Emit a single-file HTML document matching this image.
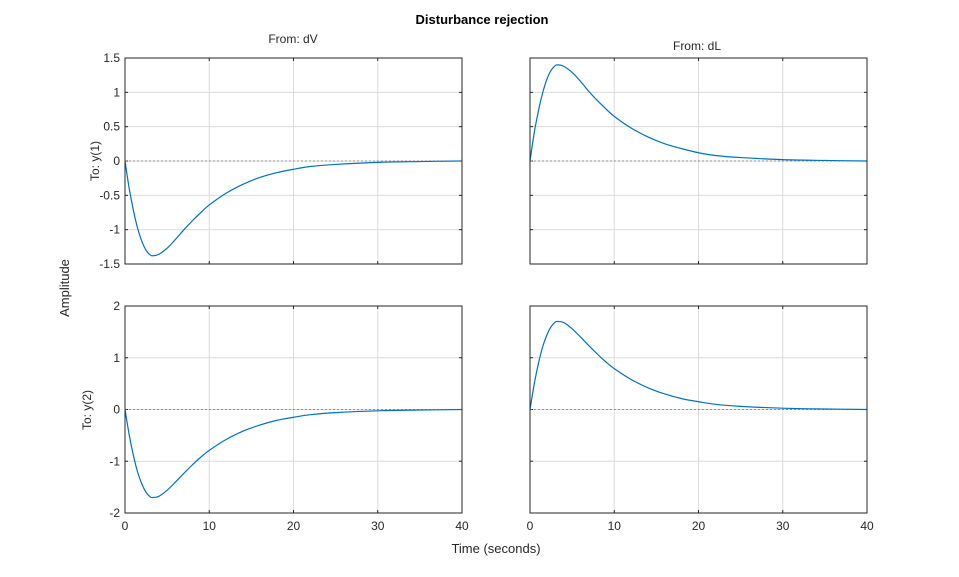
<!DOCTYPE html>
<html><head><meta charset="utf-8"><style>
body{margin:0;background:#fff;}
svg{display:block;font-family:"Liberation Sans",sans-serif;}
</style></head><body>
<svg id="chart" width="959" height="577" viewBox="0 0 959 577" xmlns="http://www.w3.org/2000/svg">
<rect width="959" height="577" fill="#fff"/>
<text x="482" y="24" text-anchor="middle" font-size="13" font-weight="bold" fill="#000">Disturbance rejection</text>
<text x="293" y="43" text-anchor="middle" font-size="12" fill="#262626">From: dV</text>
<text x="697" y="50" text-anchor="middle" font-size="12" fill="#262626">From: dL</text>
<text transform="translate(69,288) rotate(-90)" text-anchor="middle" font-size="13" fill="#262626">Amplitude</text>
<text x="496" y="553" text-anchor="middle" font-size="13" fill="#262626">Time (seconds)</text>
<text transform="translate(99,161) rotate(-90)" text-anchor="middle" font-size="12" fill="#262626">To: y(1)</text>
<text transform="translate(91,410) rotate(-90)" text-anchor="middle" font-size="12" fill="#262626">To: y(2)</text>
<g id="panels"></g>
</svg>
<script>
const times = [0,0.5,1,1.5,2,2.5,3,3.3,4,5,6,7,8,9,10,12,14,16,18,20,22,25,30,35,40];
const y1dV = [0,-0.40,-0.72,-0.98,-1.17,-1.30,-1.37,-1.38,-1.36,-1.27,-1.14,-1.00,-0.87,-0.75,-0.64,-0.47,-0.34,-0.24,-0.17,-0.12,-0.08,-0.05,-0.02,-0.008,0];
const y1dL = [0,0.41,0.73,0.99,1.19,1.32,1.39,1.40,1.38,1.29,1.16,1.01,0.88,0.76,0.65,0.48,0.35,0.25,0.18,0.12,0.08,0.05,0.02,0.008,0];
const y2dV = [0,-0.49,-0.89,-1.21,-1.44,-1.60,-1.69,-1.70,-1.68,-1.56,-1.40,-1.23,-1.07,-0.92,-0.79,-0.58,-0.42,-0.30,-0.21,-0.15,-0.10,-0.06,-0.025,-0.01,0];
const y2dL = [0,0.49,0.89,1.21,1.44,1.60,1.69,1.70,1.68,1.56,1.40,1.23,1.07,0.92,0.79,0.58,0.42,0.30,0.21,0.15,0.10,0.06,0.025,0.01,0];
const xTicks = [0,10,20,30,40];
const yTicksTop = [-1.5,-1,-0.5,0,0.5,1,1.5];
const yTicksBot = [-2,-1,0,1,2];

const NS="http://www.w3.org/2000/svg";
const root=document.getElementById('panels');
function mk(tag,attrs,parent){const e=document.createElementNS(NS,tag);for(const k in attrs)e.setAttribute(k,attrs[k]);(parent||root).appendChild(e);return e;}

const panels=[
 {name:'y1-dv',x0:125,x1:462,y0:58,y1:264,ymin:-1.5,ymax:1.5,ticks:yTicksTop,data:y1dV,ylab:true,xlab:false},
 {name:'y1-dl',x0:530,x1:867,y0:58,y1:264,ymin:-1.5,ymax:1.5,ticks:yTicksTop,data:y1dL,ylab:false,xlab:false},
 {name:'y2-dv',x0:125,x1:462,y0:306,y1:513,ymin:-2,ymax:2,ticks:yTicksBot,data:y2dV,ylab:true,xlab:true},
 {name:'y2-dl',x0:530,x1:867,y0:306,y1:513,ymin:-2,ymax:2,ticks:yTicksBot,data:y2dL,ylab:false,xlab:true}
];
panels.forEach(p=>{
 const g=mk('g',{});
 
 
 const sx=t=>p.x0+(t-0)/(40-0)*(p.x1-p.x0);
 const sy=v=>p.y1-(v-p.ymin)/(p.ymax-p.ymin)*(p.y1-p.y0);
 xTicks.forEach(t=>{
  const x=sx(t);
  const l=mk('line',{x1:x,x2:x,y1:p.y0,y2:p.y1,stroke:'#dcdcdc','stroke-width':1},g);
  
  
  mk('line',{x1:x,x2:x,y1:p.y1,y2:p.y1-3,stroke:'#262626'},g);
  mk('line',{x1:x,x2:x,y1:p.y0,y2:p.y0+3,stroke:'#262626'},g);
  if(p.xlab){const tx=mk('text',{x:x,y:p.y1+17,'text-anchor':'middle','font-size':12,fill:'#262626'},g);tx.textContent=t;
   
   }
 });
 p.ticks.forEach(v=>{
  const y=sy(v);
  const l=mk('line',{x1:p.x0,x2:p.x1,y1:y,y2:y,stroke:'#dcdcdc','stroke-width':1},g);
  
  
  mk('line',{x1:p.x0,x2:p.x0+3,y1:y,y2:y,stroke:'#262626'},g);
  mk('line',{x1:p.x1,x2:p.x1-3,y1:y,y2:y,stroke:'#262626'},g);
  if(p.ylab){const tx=mk('text',{x:p.x0-5,y:y+4,'text-anchor':'end','font-size':12,fill:'#262626'},g);tx.textContent=v;
   
   }
 });
 const z=mk('line',{x1:p.x0,x2:p.x1,y1:sy(0),y2:sy(0),stroke:'#777','stroke-width':0.8,'stroke-dasharray':'2,2'},g);
 
 
 const pts=times.map((t,i)=>[sx(t),sy(p.data[i])]);
 let d='M'+pts[0][0]+','+pts[0][1];
 for(let i=0;i<pts.length-1;i++){
  const p0=pts[Math.max(0,i-1)],p1=pts[i],p2=pts[i+1],p3=pts[Math.min(pts.length-1,i+2)];
  const c1=[p1[0]+(p2[0]-p0[0])/6,p1[1]+(p2[1]-p0[1])/6];
  const c2=[p2[0]-(p3[0]-p1[0])/6,p2[1]-(p3[1]-p1[1])/6];
  d+=' C'+c1+' '+c2+' '+p2;
 }
 const path=mk('path',{d:d,fill:'none',stroke:'#0072bd','stroke-width':1.2},g);
 
 
 const box=mk('rect',{x:p.x0,y:p.y0,width:p.x1-p.x0,height:p.y1-p.y0,fill:'none',stroke:'#262626','stroke-width':1},g);
 
 
});
</script>
</body></html>
